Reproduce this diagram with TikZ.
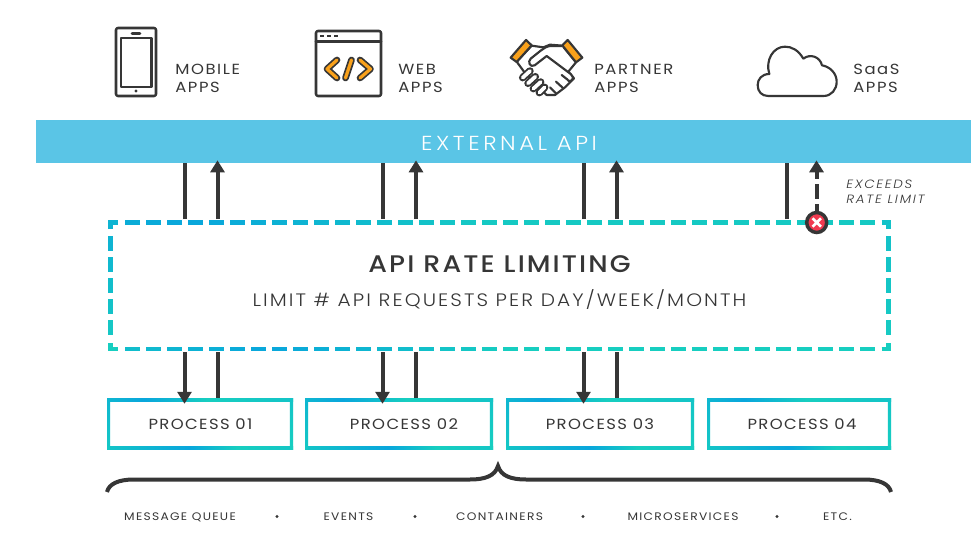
\documentclass[tikz,border=0pt]{standalone}
\usepackage{fontspec}
\setmainfont{Poppins}[UprightFont=* Light,ItalicFont=* Light Italic,BoldFont=* Medium,FakeStretch=1.12]
\newfontfamily\rgf{Poppins}[FakeStretch=1.12]
\usetikzlibrary{arrows.meta}
\definecolor{ink}{HTML}{363636}
\definecolor{barc}{HTML}{5AC5E6}
\definecolor{tealc}{HTML}{17CEC0}
\definecolor{bluec}{HTML}{09A6DC}
\definecolor{orangec}{HTML}{F9A11B}
\definecolor{redc}{HTML}{F03A50}
\pgfdeclarehorizontalshading{ptop}{100bp}{color(0bp)=(bluec!60!tealc); color(25bp)=(bluec!60!tealc); color(35bp)=(bluec); color(52bp)=(tealc); color(75bp)=(bluec!25!tealc); color(100bp)=(bluec!25!tealc)}
\pgfdeclarehorizontalshading{pbot}{100bp}{color(0bp)=(tealc); color(25bp)=(bluec!25!tealc); color(47bp)=(bluec); color(60bp)=(tealc); color(75bp)=(tealc!80!bluec); color(100bp)=(tealc!80!bluec)}
\tikzset{
  x=0.75pt,y=-0.75pt,
  conn/.style={ink,line width=3pt},
  tipped/.style={conn,-{Triangle[length=9pt,width=10.5pt]}},
  icon/.style={ink,line width=1.9pt,line join=round,line cap=round},
  hand/.style={ink,line width=1.6pt,line join=round,line cap=round},
  appl/.style={anchor=west,align=left,text=ink,inner sep=0pt,font=\rgf\fontsize{11pt}{13.6pt}\selectfont\addfontfeature{LetterSpace=11}},
  proc/.style={minimum width=#1*0.75pt,minimum height=38.25pt,inner sep=0pt,text=ink,font=\rgf\fontsize{11pt}{13pt}\selectfont\addfontfeature{LetterSpace=9.5}},
  foot/.style={text=ink,inner sep=0pt,font=\rgf\fontsize{8.2pt}{10pt}\selectfont\addfontfeature{LetterSpace=12}},
}
\newcommand{\procframe}[2]{%
  \shade[shading=ptop] (#1,398) rectangle (#2,401.2);
  \shade[shading=pbot] (#1,446.2) rectangle (#2,449.4);
  \shade[top color=bluec!60!tealc,bottom color=tealc!85!bluec] (#1,398) rectangle ({#1+3.2},449.4);
  \shade[top color=bluec!25!tealc,bottom color=tealc] ({#2-3.2},398) rectangle (#2,449.4);
}
\newcommand{\fingerline}[4]{%
  \draw[ink,line width=5.6pt,line cap=round] (#1,#2) -- (#3,#4);
  \draw[white,line width=2.8pt,line cap=round] (#1,#2) -- (#3,#4);
}
\begin{document}
\begin{tikzpicture}
\useasboundingbox (0,0) rectangle (971,549);
\fill[white] (0,0) rectangle (971,549);

% mobile
\draw[icon,rounded corners=1.5pt] (116,28) rectangle (156,96);
\draw[icon] (121,38) rectangle (151.5,87);
\draw[icon] (132,33.5) -- (140,33.5);
\fill[ink] (136,91) circle (1.3pt);
% web
\draw[icon,rounded corners=1.5pt] (316,31) rectangle (381,96);
\draw[icon] (316,41.5) -- (381,41.5);
\foreach \dx in {322,329,336} \draw[ink,line width=1.5pt] (\dx-2,36.5) -- (\dx+2,36.5);
\foreach \c/\w in {ink/5pt,orangec/2.4pt}{
  \draw[\c,line width=\w,line cap=round,line join=round] (337,60) -- (327,69) -- (337,78);
  \draw[\c,line width=\w,line cap=round] (351.5,60) -- (345.5,78);
  \draw[\c,line width=\w,line cap=round,line join=round] (360,60) -- (370.5,69) -- (360,78);
}
% handshake
\begin{scope}[shift={(500,30)},x=0.25pt,y=-0.25pt]
  \draw[hand,fill=white] (50,95) -- (72,125) -- (140,195) -- (165,195) -- (195,172) -- (222,145) -- (205,125) -- (228,97) -- (187,47) -- (150,44) -- (130,52) -- (95,47) -- cycle;
  \draw[hand,fill=orangec] (32,83) -- (78,30) -- (95,46) -- (50,96) -- cycle;
  \draw[hand,fill=orangec] (187,46) -- (203,30) -- (247,83) -- (228,97) -- cycle;
  \draw[hand,fill=white] (186,48) -- (150,48) .. controls (138,50) and (130,56) .. (122,62) -- (92,86) .. controls (82,95) and (90,114) .. (104,106) -- (140,78) -- (212,132) .. controls (226,143) and (215,158) .. (204,152);
  \draw[hand] (204,150) -- (185,135);
  \draw[hand] (190,175) -- (168,155);
  \draw[hand] (168,190) -- (150,172);
  \fingerline{68}{143}{90}{123}
  \fingerline{84}{160}{106}{140}
  \fingerline{100}{176}{122}{156}
  \fingerline{118}{188}{134}{172}
\end{scope}
% cloud
\begin{scope}[shift={(490,10)},x=0.25pt,y=-0.25pt]
  \draw[icon,line width=1.6pt] (835,258) -- (1000,258) .. controls (1025,258) and (1040,238) .. (1040,215)
    .. controls (1040,190) and (1020,170) .. (996,166)
    .. controls (990,140) and (960,130) .. (940,146)
    .. controls (925,120) and (905,110) .. (885,110)
    .. controls (850,110) and (825,150) .. (838,192)
    .. controls (815,192) and (803,208) .. (803,225)
    .. controls (803,245) and (815,258) .. (835,258) -- cycle;
\end{scope}

\node[appl] (mobile) at (175,78.5) {MOBILE\\APPS};
\node[appl] (web) at (398,78.5) {WEB\\APPS};
\node[appl] (partner) at (594,78.5) {PARTNER\\APPS};
\node[appl] (saas) at (853,78.5) {SaaS\\APPS};

% external API
\node[fill=barc,minimum width=701.25pt,minimum height=32.25pt,inner sep=0pt] (api) at (503.5,141.5) {};
\node[text=white,inner sep=0pt,font=\fontsize{15.2pt}{17pt}\selectfont\addfontfeature{LetterSpace=17.5}] (apit) at (509,143) {EXTERNAL API};

% rate limiter
\node[minimum width=583.5pt,minimum height=95.25pt,inner sep=0pt] (limit) at (499,285.5) {};
\foreach \i in {0,...,35}{
  \pgfmathsetmacro\xa{125+21*\i}
  \pgfmathsetmacro\mt{max(12,100-abs(\xa-180)/3.4)}
  \pgfmathsetmacro\mb{max(0,100-abs(\xa-260)/2.4)}
  \draw[line width=3.6pt,draw=bluec!\mt!tealc] (\xa,222.5) -- (\xa+14.5,222.5);
  \draw[line width=3.6pt,draw=bluec!\mb!tealc] (\xa,349) -- (\xa+14.5,349);
}
\foreach \i in {0,...,4}{
  \pgfmathsetmacro\ya{236+21*\i}
  \pgfmathsetmacro\ml{65-12*\i}
  \draw[line width=3.6pt,draw=bluec!\ml!tealc] (110.5,\ya) -- (110.5,\ya+14.5);
  \pgfmathsetmacro\mr{30-5*\i}
  \draw[line width=3.6pt,draw=bluec!\mr!tealc] (888.5,\ya) -- (888.5,\ya+14.5);
}
\draw[line width=3.6pt,draw=bluec!65!tealc] (110.5,229) -- (110.5,222.5) -- (117.5,222.5);
\draw[line width=3.6pt,draw=tealc] (110.5,343) -- (110.5,349) -- (117.5,349);
\draw[line width=3.6pt,draw=bluec!30!tealc] (881.5,222.5) -- (888.5,222.5) -- (888.5,229);
\draw[line width=3.6pt,draw=tealc] (881.5,349) -- (888.5,349) -- (888.5,343);
\node[text=ink,inner sep=0pt,font=\bfseries\fontsize{18pt}{20pt}\selectfont\addfontfeature{LetterSpace=8.7}] (lt1) at (499.5,264.5) {API RATE LIMITING};
\node[text=ink,inner sep=0pt,font=\fontsize{13.5pt}{16pt}\selectfont\addfontfeature{LetterSpace=11.6}] (lt2) at (499.5,300) {LIMIT \# API REQUESTS PER DAY/WEEK/MONTH};

% processes
\procframe{107}{293}
\procframe{305}{493}
\procframe{506}{694}
\procframe{707}{891}
\node[proc=186] (p1) at (200.5,424.2) {PROCESS 01};
\node[proc=188] (p2) at (404,424.2) {PROCESS 02};
\node[proc=188] (p3) at (600,424.2) {PROCESS 03};
\node[proc=184] (p4) at (802,424.2) {PROCESS 04};

% connectors
\coordinate (u1) at (184.5,0); \coordinate (v1) at (217.5,0);
\coordinate (u2) at (382.5,0); \coordinate (v2) at (416,0);
\coordinate (u3) at (583.5,0); \coordinate (v3) at (616.5,0);
\coordinate (u4) at (786.5,0); \coordinate (v4) at (816.5,0);
\foreach \n in {1,2,3}{
  \draw[conn,shorten <=2pt] (limit.north -| u\n) -- (api.south -| u\n);
  \draw[tipped,shorten <=2pt,shorten >=-2.2pt] (limit.north -| v\n) -- (api.south -| v\n);
  \draw[tipped,shorten <=2.2pt,shorten >=-4pt] (limit.south -| u\n) -- (p\n.north -| u\n);
  \draw[conn,shorten <=2.2pt] (limit.south -| v\n) -- (p\n.north -| v\n);
}
\draw[conn,shorten <=2pt] (limit.north -| u4) -- (api.south -| u4);

% over limit
\node[circle,draw=ink,fill=redc,line width=2.6pt,minimum size=15pt,inner sep=0pt] (stop) at (816.7,222.5) {};
\draw[white,line width=1.9pt] (812.5,218.3) -- (820.9,226.7) (820.9,218.3) -- (812.5,226.7);
\draw[tipped,dash pattern=on 11.25pt off 3.75pt,dash phase=6pt,shorten >=-2.2pt] (stop.north -| v4) -- (api.south -| v4);
\node[anchor=west,align=left,text=ink,inner sep=0pt,font=\itshape\fontsize{9pt}{11.2pt}\selectfont\addfontfeature{LetterSpace=14.5}] (over) at (846,191.5) {EXCEEDS\\RATE LIMIT};

% brace
\coordinate (bl) at (107,492); \coordinate (bt) at (498,466); \coordinate (br) at (891,492);
\draw[conn,line cap=butt] (bl) .. controls (109,484) and (118,479.5) .. (134,479.5) -- (470,479.5) .. controls (485,479.5) and (495,476) .. (bt)
  .. controls (501,476) and (511,479.5) .. (526,479.5) -- (864,479.5) .. controls (880,479.5) and (889,484) .. (br);

% footer
\node[foot] (f1) at (180,517) {MESSAGE QUEUE};
\node[foot] (f2) at (348.5,517) {EVENTS};
\node[foot] (f3) at (499.5,517) {CONTAINERS};
\node[foot] (f4) at (683,517) {MICROSERVICES};
\node[foot] (f5) at (837.5,517) {ETC.};
\foreach \bx in {277,415,583,777} \fill[ink] (\bx,516.5) circle (1.2pt);
\end{tikzpicture}
\end{document}
